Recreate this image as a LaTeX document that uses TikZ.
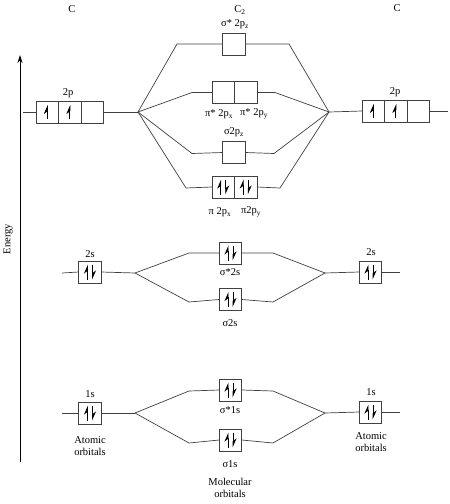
\documentclass[tikz,border=0pt]{standalone}
\usepackage{fontspec}
\setmainfont{Liberation Serif}
\usetikzlibrary{arrows.meta}
\begin{document}
\begin{tikzpicture}[x=1pt,y=-1pt,
  orb/.style={draw=black!75,line width=0.8pt,minimum width=22.5pt,minimum height=22pt,inner sep=0pt,outer sep=0pt},
  lvl/.style={draw=black!75,line width=0.7pt},
  lbl/.style={font=\fontsize{10.5}{12}\selectfont,inner sep=0pt},
  el/.style={line width=0.9pt,-{Stealth[harpoon,length=8pt,width=7pt]}}]
\useasboundingbox (0,0) rectangle (450,504);
% axis
\coordinate (axb) at (20,462);
\coordinate (axt) at (20,55);
\draw[line width=0.8pt,-{Stealth[length=8pt,width=5pt]}] (axb) -- (axt);
\node[lbl,rotate=90] (energy) at (8,239) {Energy};
% headers
\node[lbl] (cl) at (72,9) {C};
\node[lbl] (c2) at (240,10) {C\textsubscript{2}};
\node[lbl] (cr) at (397,8) {C};
% ---------- 2p level ----------
\node[orb] (l2pa) at (47.3,112) {};
\node[orb,anchor=west] (l2pb) at (l2pa.east) {};
\node[orb,anchor=west] (l2pc) at (l2pb.east) {};
\node[lbl] (l2pl) at (68,93) {2p};
\node[orb] (r2pa) at (373.3,111) {};
\node[orb,anchor=west] (r2pb) at (r2pa.east) {};
\node[orb,anchor=west] (r2pc) at (r2pb.east) {};
\node[lbl] (r2pl) at (395,92) {2p};
\coordinate (lap) at (138,112);
\coordinate (rap) at (329,112);
\coordinate (l2pend) at (23,112);
\coordinate (r2pend) at (448,111);
\draw[lvl] (l2pend) -- (l2pa.west);
\draw[lvl] (l2pc.east) -- (lap);
\draw[lvl] (rap) -- (r2pa.west);
\draw[lvl] (r2pc.east) -- (r2pend);
% electrons 2p
\foreach \b in {l2pa,l2pb,r2pa,r2pb}{
  \draw[el] ([yshift=-7pt]\b.center) -- ([yshift=7pt]\b.center);
}
% sigma* 2pz
\node[orb] (ss2pz) at (234,44) {};
\node[lbl] (ss2pzl) at (235,24) {σ* 2p\textsubscript{z}};
\coordinate (ss2pzL) at (177,44);
\coordinate (ss2pzR) at (289,44);
\draw[lvl] (lap) -- (ss2pzL) -- (ss2pz.west);
\draw[lvl] (ss2pz.east) -- (ss2pzR) -- (rap);
% pi* 2p
\node[orb] (psx) at (223.2,92.5) {};
\node[orb,anchor=west] (psy) at (psx.east) {};
\node[lbl] (psxl) at (219,114) {π* 2p\textsubscript{x}};
\node[lbl] (psyl) at (254,114) {π* 2p\textsubscript{y}};
\coordinate (psL) at (192,92.5);
\coordinate (psR) at (275,92.5);
\draw[lvl] (lap) -- (psL) -- (psx.west);
\draw[lvl] (psy.east) -- (psR) -- (rap);
% sigma 2pz
\node[orb] (s2pz) at (234,152.5) {};
\node[lbl] (s2pzl) at (234,132) {σ2p\textsubscript{z}};
\coordinate (s2pzL) at (192,153.5);
\coordinate (s2pzR) at (274,153.5);
\draw[lvl] (lap) -- (s2pzL) -- (s2pz.west);
\draw[lvl] (s2pz.east) -- (s2pzR) -- (rap);
% pi 2p
\node[orb] (px) at (223.2,187) {};
\node[orb,anchor=west] (py) at (px.east) {};
\node[lbl] (pxl) at (220,212) {π 2p\textsubscript{x}};
\node[lbl] (pyl) at (251,212) {π2p\textsubscript{y}};
\coordinate (pL) at (186,188);
\coordinate (pR) at (280,188);
\draw[lvl] (lap) -- (pL) -- (px.west);
\draw[lvl] (py.east) -- (pR) -- (rap);
% ---------- 2s level ----------
\node[orb] (l2s) at (90,272) {};
\node[lbl] (l2sl) at (90,254) {2s};
\node[orb] (r2s) at (370.5,272) {};
\node[lbl] (r2sl) at (371,252) {2s};
\coordinate (l2send) at (62,273);
\coordinate (r2send) at (400,272);
\coordinate (l2sap) at (135,273);
\coordinate (r2sap) at (325,273);
\draw[lvl] (l2send) -- (l2s.west);
\draw[lvl] (l2s.east) -- (l2sap);
\draw[lvl] (r2sap) -- (r2s.west);
\draw[lvl] (r2s.east) -- (r2send);
\node[orb] (ss2s) at (230.5,253) {};
\node[lbl] (ss2sl) at (230,272) {σ*2s};
\node[orb] (s2s) at (230.5,299.5) {};
\node[lbl] (s2sl) at (230,323) {σ2s};
\coordinate (ss2sL) at (189,253);
\coordinate (ss2sR) at (273,253);
\coordinate (s2sL) at (189,302);
\coordinate (s2sR) at (273,302);
\draw[lvl] (l2sap) -- (ss2sL) -- (ss2s.west);
\draw[lvl] (ss2s.east) -- (ss2sR) -- (r2sap);
\draw[lvl] (l2sap) -- (s2sL) -- (s2s.west);
\draw[lvl] (s2s.east) -- (s2sR) -- (r2sap);
% ---------- 1s level ----------
\node[orb] (l1s) at (90,413) {};
\node[lbl] (l1sl) at (90,394) {1s};
\node[orb] (r1s) at (370.5,412) {};
\node[lbl] (r1sl) at (371,392) {1s};
\coordinate (l1send) at (62,413);
\coordinate (r1send) at (400,412);
\coordinate (l1sap) at (135,413);
\coordinate (r1sap) at (325,413);
\draw[lvl] (l1send) -- (l1s.west);
\draw[lvl] (l1s.east) -- (l1sap);
\draw[lvl] (r1sap) -- (r1s.west);
\draw[lvl] (r1s.east) -- (r1send);
\node[orb] (ss1s) at (230.5,390) {};
\node[lbl] (ss1sl) at (230,410) {σ*1s};
\node[orb] (s1s) at (230.5,440) {};
\node[lbl] (s1sl) at (230,464) {σ1s};
\coordinate (ss1sL) at (189,391);
\coordinate (ss1sR) at (273,391);
\coordinate (s1sL) at (189,443);
\coordinate (s1sR) at (273,443);
\draw[lvl] (l1sap) -- (ss1sL) -- (ss1s.west);
\draw[lvl] (ss1s.east) -- (ss1sR) -- (r1sap);
\draw[lvl] (l1sap) -- (s1sL) -- (s1s.west);
\draw[lvl] (s1s.east) -- (s1sR) -- (r1sap);
% paired electrons (yshift is upward on the page)
\foreach \b in {px,py,l2s,r2s,ss2s,s2s,l1s,r1s,ss1s,s1s}{
  \draw[el] ([xshift=-2.5pt,yshift=-7.5pt]\b.center) -- ([xshift=-2.5pt,yshift=7.5pt]\b.center);
  \draw[el] ([xshift=2.5pt,yshift=7.5pt]\b.center) -- ([xshift=2.5pt,yshift=-7.5pt]\b.center);
}
% orbital group labels
\node[lbl,align=center] (lao) at (90,446) {Atomic\\orbitals};
\node[lbl,align=center] (rao) at (371,442) {Atomic\\orbitals};
\node[lbl,align=center] (mo) at (230,488) {Molecular\\orbitals};
\end{tikzpicture}
\end{document}
